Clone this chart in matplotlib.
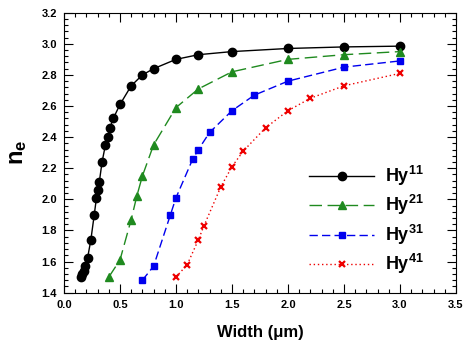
import matplotlib
matplotlib.use("Agg")
import matplotlib.pyplot as plt
from matplotlib.ticker import MultipleLocator, AutoMinorLocator, FormatStrFormatter

plt.rcParams['font.family'] = ['Liberation Sans', 'DejaVu Sans']
plt.rcParams['font.weight'] = 'bold'
plt.rcParams['mathtext.fontset'] = 'custom'
plt.rcParams['mathtext.rm'] = 'Liberation Sans:bold'
plt.rcParams['mathtext.it'] = 'Liberation Sans:bold'
plt.rcParams['mathtext.bf'] = 'Liberation Sans:bold'

# Hy11
x11 = [0.15, 0.165, 0.18, 0.19, 0.21, 0.24, 0.27, 0.29, 0.30, 0.315, 0.34, 0.37,
       0.39, 0.41, 0.44, 0.5, 0.6, 0.7, 0.8, 1.0, 1.2, 1.5, 2.0, 2.5, 3.0]
y11 = [1.50, 1.52, 1.54, 1.57, 1.62, 1.74, 1.90, 2.01, 2.06, 2.11, 2.24, 2.35,
       2.40, 2.46, 2.52, 2.61, 2.73, 2.80, 2.84, 2.90, 2.93, 2.95, 2.97, 2.98, 2.985]
# Hy21
x21 = [0.4, 0.5, 0.6, 0.65, 0.7, 0.8, 1.0, 1.2, 1.5, 2.0, 2.5, 3.0]
y21 = [1.50, 1.61, 1.87, 2.02, 2.15, 2.35, 2.59, 2.71, 2.82, 2.90, 2.93, 2.95]
# Hy31
x31 = [0.7, 0.8, 0.95, 1.0, 1.15, 1.2, 1.3, 1.5, 1.7, 2.0, 2.5, 3.0]
y31 = [1.48, 1.57, 1.90, 2.01, 2.26, 2.32, 2.43, 2.57, 2.67, 2.76, 2.85, 2.89]
# Hy41
x41 = [1.0, 1.1, 1.2, 1.25, 1.4, 1.5, 1.6, 1.8, 2.0, 2.2, 2.5, 3.0]
y41 = [1.50, 1.58, 1.74, 1.83, 2.08, 2.21, 2.31, 2.46, 2.57, 2.65, 2.73, 2.81]

labels = [r'$\mathbf{Hy^{11}}$', r'$\mathbf{Hy^{21}}$',
          r'$\mathbf{Hy^{31}}$', r'$\mathbf{Hy^{41}}$']

fig = plt.figure(figsize=(4.74, 3.53), dpi=100)
ax = fig.add_axes([0.135, 0.171, 0.827, 0.793])

ax.plot(x11, y11, color='black', ls='-', lw=1.0, marker='o', ms=6, label=labels[0])
ax.plot(x21, y21, color='#1f8a1f', ls=(0, (9, 4)), lw=1.0, marker='^', ms=6, label=labels[1])
ax.plot(x31, y31, color='#0000ee', ls=(0, (6, 3)), lw=1.0, marker='s', ms=5, label=labels[2])
ax.plot(x41, y41, color='#ee0000', ls=(0, (1, 2)), lw=1.0, marker='x', ms=5, mew=1.6, label=labels[3])

ax.set_xlim(0, 3.5)
ax.set_ylim(1.4, 3.2)
ax.xaxis.set_major_locator(MultipleLocator(0.5))
ax.xaxis.set_minor_locator(AutoMinorLocator(5))
ax.yaxis.set_major_locator(MultipleLocator(0.2))
ax.yaxis.set_minor_locator(AutoMinorLocator(5))
ax.xaxis.set_major_formatter(FormatStrFormatter('%.1f'))
ax.yaxis.set_major_formatter(FormatStrFormatter('%.1f'))
ax.tick_params(which='both', direction='in', top=True, right=True, width=0.8)
ax.tick_params(which='major', length=6.5, labelsize=8, pad=5)
ax.tick_params(which='minor', length=3)
for lab in ax.get_xticklabels() + ax.get_yticklabels():
    lab.set_fontweight('bold')
for s in ax.spines.values():
    s.set_linewidth(0.8)

ax.set_xlabel('Width (μm)', fontsize=12, fontweight='bold', labelpad=11)
ax.set_ylabel(r'$\mathbf{n_e}$', fontsize=17, labelpad=9)

leg = ax.legend(loc='lower right', bbox_to_anchor=(0.96, 0.0), frameon=False,
                fontsize=13, handlelength=3.6, handletextpad=0.6, labelspacing=0.3)

fig.savefig('out.png', dpi=100)
